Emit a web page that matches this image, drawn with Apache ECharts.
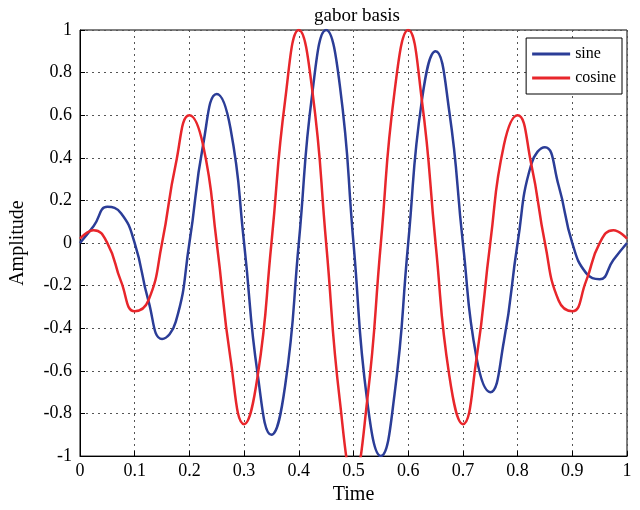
<!DOCTYPE html>
<html><head><meta charset="utf-8">
<script src="https://cdn.jsdelivr.net/npm/echarts@6/dist/echarts.min.js"></script>
<style>body{margin:0;background:#fff}#c{width:640px;height:510px}</style></head>
<body><div id="c"></div>
<script>
const timeValues = [0,0.025,0.05,0.075,0.1,0.125,0.15,0.175,0.2,0.225,0.25,0.275,0.3,0.325,0.35,0.375,0.4,0.425,0.45,0.475,0.5,0.525,0.55,0.575,0.6,0.625,0.65,0.675,0.7,0.725,0.75,0.775,0.8,0.825,0.85,0.875,0.9,0.925,0.95,0.975,1];
const sineValues = [0,0.08,0.17,0.14,0,-0.27,-0.45,-0.37,0,0.46,0.7,0.54,0,-0.62,-0.9,-0.67,0,0.71,1.0,0.74,0,-0.74,-1.0,-0.71,0,0.67,0.9,0.62,0,-0.54,-0.7,-0.46,0,0.37,0.45,0.27,0,-0.14,-0.17,-0.08,0];
const cosineValues = [0.02,0.06,0,-0.18,-0.32,-0.27,0,0.37,0.6,0.46,0,-0.54,-0.85,-0.62,0,0.67,1.0,0.71,0,-0.74,-1.1,-0.74,0,0.71,1.0,0.67,0,-0.62,-0.85,-0.54,0,0.46,0.6,0.37,0,-0.27,-0.32,-0.18,0,0.06,0.02];
const font = 'Liberation Serif';
const ch = echarts.init(document.getElementById('c'));
const axisCommon = {
  axisLine:{onZero:false,lineStyle:{color:'#000',width:1}},
  axisTick:{inside:true,length:5,lineStyle:{color:'#000'}},
  axisLabel:{color:'#000',fontFamily:font,fontSize:18},
  splitLine:{show:true,lineStyle:{color:'#555',type:[2,4],width:1}},
  nameTextStyle:{color:'#000',fontFamily:font,fontSize:20}
};
ch.setOption({
  animation:false,
  title:{text:'gabor basis',left:352,top:2,textAlign:'center',textStyle:{fontFamily:font,fontSize:19,fontWeight:'normal',color:'#000'}},
  legend:{orient:'vertical',right:18,top:38,itemWidth:38,itemHeight:3,itemGap:8,padding:[8,6,8,6],borderColor:'#000',borderWidth:1,backgroundColor:'#fff',
    textStyle:{fontFamily:font,fontSize:16,color:'#000'},icon:'rect',data:['sine','cosine']},
  grid:{left:78,right:13,top:30,bottom:47,show:true,borderColor:'#000',borderWidth:1},
  xAxis:{type:'value',min:0,max:1,interval:0.1,name:'Time',nameLocation:'middle',nameGap:20,
    axisLine:axisCommon.axisLine,axisTick:axisCommon.axisTick,splitLine:axisCommon.splitLine,nameTextStyle:axisCommon.nameTextStyle,
    axisLabel:Object.assign({},axisCommon.axisLabel,{formatter:v=>String(+v.toFixed(1)),margin:6})},
  yAxis:{type:'value',min:-1,max:1,interval:0.2,name:'Amplitude',nameLocation:'middle',nameGap:52,
    axisLine:axisCommon.axisLine,axisTick:axisCommon.axisTick,splitLine:axisCommon.splitLine,nameTextStyle:axisCommon.nameTextStyle,
    axisLabel:Object.assign({},axisCommon.axisLabel,{formatter:v=>String(+v.toFixed(1))})},
  series:[
    {name:'sine',type:'line',smooth:0.5,showSymbol:false,clip:true,data:timeValues.map((t,i)=>[t,sineValues[i]]),lineStyle:{color:'#2b3d97',width:2.5},itemStyle:{color:'#2b3d97'}},
    {name:'cosine',type:'line',smooth:0.5,showSymbol:false,clip:true,data:timeValues.map((t,i)=>[t,cosineValues[i]]),lineStyle:{color:'#e8262b',width:2.5},itemStyle:{color:'#e8262b'}}
  ]
});
</script></body></html>
